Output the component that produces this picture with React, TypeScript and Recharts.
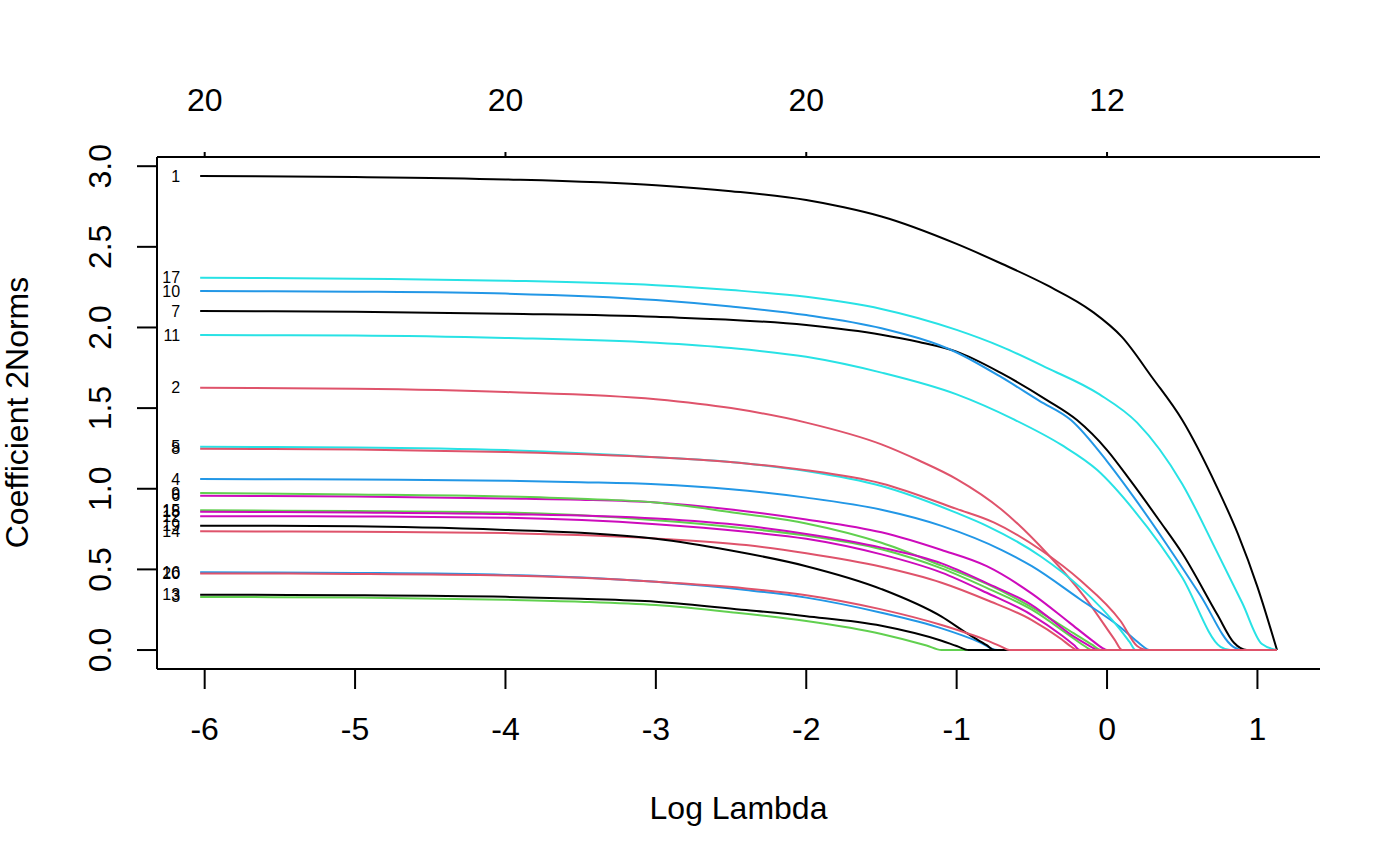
import { ComposedChart, Line, XAxis, YAxis } from 'recharts';

const FONT = '"Liberation Sans", Arial, Helvetica, sans-serif';

// axis ticks
const lambdaTicks = [-6, -5, -4, -3, -2, -1, 0, 1];
const dfTicks = [-6, -4, -2, 0];
const dfCounts = [20, 20, 20, 12];
const normTicks = [0, 0.5, 1, 1.5, 2, 2.5, 3];

// coefficient paths, [log lambda, coefficient 2-norm], variables 1..20
const v1 = [[-6.03, 2.939], [-5, 2.933], [-4, 2.918], [-3, 2.882], [-2.5, 2.845], [-2, 2.79], [-1.75, 2.745], [-1.5, 2.688], [-1, 2.518], [-0.7, 2.395], [-0.4, 2.262], [-0.1, 2.1], [0.1, 1.94], [0.3, 1.69], [0.5, 1.426], [0.73, 1.012], [0.87, 0.72], [1.0, 0.392], [1.13, 0]];
const v2 = [[-6.03, 1.626], [-5, 1.62], [-4, 1.6], [-3, 1.555], [-2.5, 1.5], [-2, 1.41], [-1.5, 1.275], [-1.25, 1.175], [-1, 1.06], [-0.7, 0.87], [-0.4, 0.6], [-0.15, 0.33], [0.05, 0.065], [0.1, 0], [1.13, 0]];
const v3 = [[-6.03, 0.329], [-5, 0.325], [-4, 0.312], [-3.5, 0.3], [-3, 0.279], [-2.5, 0.235], [-2, 0.18], [-1.5, 0.1], [-1.2, 0.028], [-1.1, 0], [1.13, 0]];
const v4 = [[-6.03, 1.06], [-5, 1.057], [-4, 1.05], [-3.5, 1.041], [-3, 1.028], [-2.5, 0.997], [-2, 0.945], [-1.5, 0.87], [-1.1, 0.77], [-0.7, 0.62], [-0.5, 0.52], [-0.18, 0.315], [0.09, 0.14], [0.18, 0.068], [0.24, 0.022], [0.28, 0], [1.13, 0]];
const v5 = [[-6.03, 1.26], [-5, 1.256], [-4, 1.24], [-3, 1.196], [-2.4, 1.157], [-2, 1.11], [-1.5, 1.017], [-1, 0.85], [-0.8, 0.77], [-0.44, 0.58], [-0.18, 0.39], [0.09, 0.124], [0.15, 0.05], [0.19, 0], [1.13, 0]];
const v6 = [[-6.03, 0.957], [-5, 0.952], [-4, 0.94], [-3.5, 0.932], [-3, 0.915], [-2.5, 0.872], [-2, 0.81], [-1.5, 0.73], [-1.1, 0.62], [-0.8, 0.52], [-0.5, 0.35], [-0.25, 0.17], [-0.1, 0.06], [-0.03, 0.012], [0, 0], [1.13, 0]];
const v7 = [[-6.03, 2.102], [-5, 2.098], [-4, 2.085], [-3, 2.066], [-2, 2.015], [-1.5, 1.955], [-1.25, 1.91], [-1, 1.85], [-0.7, 1.715], [-0.4, 1.55], [-0.2, 1.426], [0, 1.24], [0.156, 1.05], [0.35, 0.8], [0.5, 0.6], [0.733, 0.22], [0.844, 0.045], [0.93, 0], [1.13, 0]];
const v8 = [[-6.03, 1.248], [-5, 1.244], [-4, 1.228], [-3, 1.195], [-2.4, 1.157], [-2, 1.115], [-1.5, 1.033], [-1, 0.875], [-0.75, 0.79], [-0.44, 0.62], [-0.18, 0.434], [0.09, 0.18], [0.2, 0.025], [0.27, 0], [1.13, 0]];
const v9 = [[-6.03, 0.973], [-5, 0.965], [-4, 0.952], [-3.5, 0.938], [-3, 0.915], [-2.5, 0.855], [-2, 0.785], [-1.5, 0.665], [-1.1, 0.523], [-0.8, 0.41], [-0.5, 0.265], [-0.22, 0.103], [-0.1, 0.033], [-0.04, 0], [1.13, 0]];
const v10 = [[-6.03, 2.226], [-5, 2.222], [-4, 2.21], [-3, 2.17], [-2.5, 2.13], [-2, 2.077], [-1.5, 1.995], [-1, 1.845], [-0.7, 1.69], [-0.45, 1.545], [-0.24, 1.426], [0, 1.17], [0.18, 0.945], [0.4, 0.65], [0.62, 0.34], [0.84, 0.02], [0.9, 0], [1.13, 0]];
const v11 = [[-6.03, 1.953], [-5, 1.95], [-4, 1.935], [-3, 1.905], [-2.5, 1.872], [-2, 1.818], [-1.5, 1.72], [-1, 1.585], [-0.62, 1.43], [-0.3, 1.27], [-0.065, 1.116], [0.178, 0.868], [0.5, 0.45], [0.755, 0.02], [0.82, 0], [1.13, 0]];
const v12 = [[-6.03, 0.83], [-5, 0.828], [-4, 0.82], [-3, 0.78], [-2.4, 0.733], [-2, 0.69], [-1.5, 0.593], [-1.1, 0.48], [-0.8, 0.355], [-0.5, 0.217], [-0.3, 0.09], [-0.22, 0.031], [-0.18, 0], [1.13, 0]];
const v13 = [[-6.03, 0.343], [-5, 0.34], [-4, 0.33], [-3.5, 0.318], [-3, 0.3], [-2.4, 0.248], [-2, 0.21], [-1.5, 0.151], [-1.1, 0.058], [-1.0, 0.025], [-0.92, 0], [1.13, 0]];
const v14 = [[-6.03, 0.736], [-5, 0.733], [-4, 0.725], [-3, 0.692], [-2.4, 0.651], [-2, 0.6], [-1.5, 0.516], [-1.1, 0.417], [-0.8, 0.31], [-0.5, 0.186], [-0.3, 0.065], [-0.24, 0.022], [-0.2, 0], [1.13, 0]];
const v15 = [[-6.03, 0.866], [-5, 0.862], [-4, 0.853], [-3, 0.805], [-2.4, 0.754], [-2, 0.71], [-1.5, 0.625], [-1.1, 0.506], [-0.8, 0.385], [-0.5, 0.25], [-0.22, 0.07], [-0.15, 0.025], [-0.1, 0], [1.13, 0]];
const v16 = [[-6.03, 0.482], [-5, 0.478], [-4, 0.466], [-3, 0.423], [-2.4, 0.372], [-2, 0.325], [-1.5, 0.231], [-1.1, 0.134], [-0.85, 0.05], [-0.73, 0], [1.13, 0]];
const v17 = [[-6.03, 2.309], [-5, 2.302], [-4, 2.29], [-3, 2.262], [-2.5, 2.232], [-2, 2.19], [-1.5, 2.115], [-1, 1.985], [-0.7, 1.88], [-0.4, 1.75], [-0.05, 1.585], [0.2, 1.41], [0.5, 1.03], [0.73, 0.61], [0.9, 0.29], [1.03, 0.037], [1.13, 0]];
const v18 = [[-6.03, 0.858], [-5, 0.853], [-4, 0.843], [-3, 0.815], [-2.4, 0.77], [-2, 0.72], [-1.5, 0.635], [-1.1, 0.537], [-0.8, 0.415], [-0.5, 0.279], [-0.22, 0.083], [-0.12, 0.028], [-0.06, 0], [1.13, 0]];
const v19 = [[-6.03, 0.771], [-5, 0.767], [-4, 0.745], [-3.5, 0.727], [-3, 0.69], [-2.5, 0.617], [-2, 0.52], [-1.5, 0.378], [-1.1, 0.207], [-0.93, 0.103], [-0.8, 0.03], [-0.75, 0], [1.13, 0]];
const v20 = [[-6.03, 0.475], [-5, 0.472], [-4, 0.462], [-3, 0.423], [-2.4, 0.382], [-2, 0.34], [-1.5, 0.252], [-1.1, 0.155], [-0.8, 0.06], [-0.7, 0.02], [-0.65, 0], [1.13, 0]];

const paths = [v1, v2, v3, v4, v5, v6, v7, v8, v9, v10, v11, v12, v13, v14, v15, v16, v17, v18, v19, v20];

// R's default palette, cycled like matplot does (col = 1:6)
const palette = ['#000000', '#DF536B', '#61D04F', '#2297E6', '#28E2E5', '#CD0BBC'];

const BottomTick = (p: any) => (
  <text x={p.x} y={p.y + 40} textAnchor="middle" dominantBaseline="central" fontSize={32} fontFamily={FONT} fill="#000">
    {p.payload.value}
  </text>
);

const TopTick = (p: any) => (
  <text x={p.x} y={p.y - 52} textAnchor="middle" dominantBaseline="central" fontSize={32} fontFamily={FONT} fill="#000">
    {dfCounts[dfTicks.indexOf(p.payload.value)]}
  </text>
);

const LeftTick = (p: any) => {
  const cx = p.x - 37;
  return (
    <text x={cx} y={p.y} transform={`rotate(-90, ${cx}, ${p.y})`} textAnchor="middle" dominantBaseline="central" fontSize={32} fontFamily={FONT} fill="#000">
      {Number(p.payload.value).toFixed(1)}
    </text>
  );
};

// variable number written left of where each path starts
const startLabel = (n: number) => (p: any) =>
  p.index === 0 ? (
    <text key={`lbl-${n}`} x={p.cx - 20} y={p.cy} textAnchor="end" dominantBaseline="central" fontSize={16} fontFamily={FONT} fill="#000">
      {n}
    </text>
  ) : (
    <g key={`pt-${n}-${p.index}`} />
  );

const axisStroke = { stroke: '#000', strokeWidth: 2 };

export default function App() {
  return (
    <div style={{ position: 'absolute', left: 0, top: 0, width: 1400, height: 865, background: '#fff' }}>
      <ComposedChart width={1400} height={865} margin={{ top: 0, right: 80, bottom: 0, left: 0 }}>
        <XAxis
          xAxisId="b"
          dataKey="x"
          type="number"
          orientation="bottom"
          domain={[-6.317, 1.416]}
          allowDataOverflow
          ticks={lambdaTicks}
          height={196}
          tickSize={20}
          tickMargin={0}
          tick={BottomTick}
          axisLine={axisStroke}
          tickLine={axisStroke}
        />
        <XAxis
          xAxisId="t"
          dataKey="x"
          type="number"
          orientation="top"
          domain={[-6.317, 1.416]}
          allowDataOverflow
          ticks={dfTicks}
          height={157}
          tickSize={5}
          tickMargin={0}
          tick={TopTick}
          axisLine={axisStroke}
          tickLine={axisStroke}
        />
        <YAxis
          yAxisId="l"
          type="number"
          domain={[-0.1176, 3.057]}
          allowDataOverflow
          ticks={normTicks}
          width={157}
          tickSize={20}
          tickMargin={0}
          tick={LeftTick}
          axisLine={axisStroke}
          tickLine={axisStroke}
        />
        <YAxis
          yAxisId="r"
          orientation="right"
          type="number"
          domain={[-0.1176, 3.057]}
          allowDataOverflow
          width={0}
          tick={false}
          tickLine={false}
          axisLine={axisStroke}
        />
        {paths.map((path, i) => (
          <Line
            key={`v${i + 1}`}
            data={path.map(([x, y]) => ({ x, y }))}
            dataKey="y"
            xAxisId="b"
            yAxisId="l"
            type="monotone"
            stroke={palette[i % palette.length]}
            strokeWidth={2}
            dot={startLabel(i + 1)}
            activeDot={false}
            isAnimationActive={false}
          />
        ))}
      </ComposedChart>
      <svg width={1400} height={865} style={{ position: 'absolute', left: 0, top: 0, pointerEvents: 'none' }}>
        <text x={738.5} y={808} textAnchor="middle" dominantBaseline="central" fontSize={32} fontFamily={FONT} fill="#000">
          Log Lambda
        </text>
        <text x={17} y={412.5} transform="rotate(-90, 17, 412.5)" textAnchor="middle" dominantBaseline="central" fontSize={32} fontFamily={FONT} fill="#000">
          Coefficient 2Norms
        </text>
      </svg>
    </div>
  );
}
